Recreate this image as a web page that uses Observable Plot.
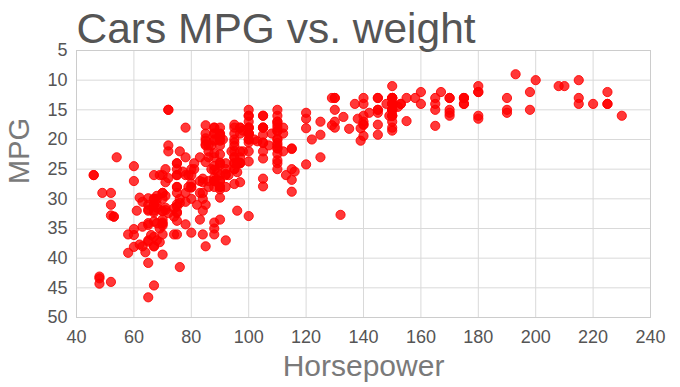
<!DOCTYPE html>
<html>
<head>
<meta charset="utf-8">
<script src="https://cdn.jsdelivr.net/npm/d3@7"></script>
<script src="https://cdn.jsdelivr.net/npm/@observablehq/plot@0.6"></script>
<style>
  html, body { margin: 0; padding: 0; background: #fff; }
</style>
</head>
<body>
<div id="chart"></div>
<script>
const title = "Cars MPG vs. weight";
const xLabel = "Horsepower";
const yLabel = "MPG";
const xTicks = [40, 60, 80, 100, 120, 140, 160, 180, 200, 220, 240];
const yTicks = [5, 10, 15, 20, 25, 30, 35, 40, 45, 50];

const horsepower = [
130,165,150,150,140,198,220,215,225,190,170,160,150,225,95,95,97,85,88,46,87,90,95,113,90,215,200,210,193,88,90,95,100,105,100,88,100,165,175,153,150,180,170,175,110,72,100,88,86,90,70,76,65,69,60,70,95,80,54,90,86,165,175,150,153,150,208,155,160,190,97,150,130,140,150,112,76,87,69,86,92,97,80,88,175,150,145,137,150,198,150,158,150,215,225,175,105,100,100,88,95,46,150,167,170,180,100,88,72,94,90,85,107,90,145,230,49,75,91,112,150,110,122,180,95,100,100,67,80,65,75,100,110,105,140,150,150,140,150,83,67,78,52,61,75,75,75,97,93,67,95,105,72,72,170,145,150,148,110,105,110,95,110,110,129,75,83,100,78,96,71,97,97,70,90,95,88,98,115,53,86,81,92,79,83,140,150,120,152,100,105,81,90,52,60,70,53,100,78,110,95,71,70,75,72,102,150,88,108,120,180,145,130,150,68,80,58,96,70,145,110,145,130,110,105,100,98,180,170,190,149,78,88,75,89,63,83,67,78,97,110,110,48,66,52,70,60,110,140,139,105,95,85,88,100,90,105,85,110,120,145,165,139,140,68,95,97,75,95,105,85,97,103,125,115,133,71,68,115,85,88,90,110,130,129,138,135,155,142,125,150,71,65,80,80,77,125,71,90,70,70,65,69,90,115,115,90,76,60,70,65,90,88,90,90,78,90,75,92,75,65,105,65,48,48,67,67,67,67,62,132,100,88,72,84,84,92,110,84,58,64,60,67,65,62,68,63,65,65,74,75,75,100,74,80,76,116,120,110,105,88,85,88,88,88,85,84,90,92,74,68,68,63,70,88,75,70,67,67,67,110,85,92,112,96,84,90,86,52,84,79,82
];
const mpg = [
18,15,18,16,17,15,14,14,14,15,15,14,15,14,24,22,18,21,27,26,25,24,25,26,21,10,10,11,9,27,28,25,19,16,17,19,18,14,14,14,14,12,13,13,18,22,19,18,23,28,30,30,31,35,27,26,24,25,23,20,21,13,14,15,14,17,11,13,12,13,19,15,13,13,14,18,22,21,26,22,28,23,28,27,13,14,13,14,15,12,13,13,14,13,12,13,18,16,18,18,23,26,11,12,13,12,18,20,21,22,18,19,21,26,15,16,29,24,20,19,15,24,20,11,20,19,15,31,26,32,25,16,16,18,16,13,14,14,14,29,26,26,31,32,28,24,26,24,26,31,19,18,15,15,16,15,16,14,17,16,15,18,21,20,13,29,23,20,23,24,25,24,18,29,19,23,23,22,25,33,28,25,25,26,27,17.5,16,15.5,14.5,22,22,24,22.5,29,24.5,29,33,20,18,18.5,17.5,29.5,32,28,26.5,20,13,19,19,16.5,16.5,13,13,13,31.5,30,36,25.5,33.5,17.5,17,15.5,15,17.5,20.5,19,18.5,16,15.5,15.5,16,29,24.5,26,25.5,30.5,33.5,30,30.5,22,21.5,21.5,43.1,36.1,32.8,39.4,36.1,19.9,19.4,20.2,19.2,20.5,20.2,25.1,20.5,19.4,20.6,20.8,18.6,18.1,19.2,17.7,18.1,17.5,30,27.5,27.2,30.9,21.1,23.2,23.8,23.9,20.3,17,21.6,16.2,31.5,29.5,21.5,19.8,22.3,20.2,20.6,17,17.6,16.5,18.2,16.9,15.5,19.2,18.5,31.9,34.1,35.7,27.4,25.4,23,27.2,23.9,34.2,34.5,31.8,37.3,28.4,28.8,26.8,33.5,41.5,38.1,32.1,37.2,28,26.4,24.3,19.1,34.3,29.8,31.3,37,32.2,46.6,27.9,40.8,44.3,43.4,36.4,30,44.6,33.8,29.8,32.7,23.7,35,32.4,27.2,26.6,25.8,23.5,30,39.1,39,35.1,32.3,37,37.7,34.1,34.7,34.4,29.9,33,33.7,32.4,32.9,31.6,28.1,30.7,25.4,24.2,22.4,26.6,20.2,17.6,28,27,34,31,29,27,24,36,37,31,38,36,36,36,34,38,32,38,25,38,26,22,32,36,27,27,44,32,28,31
];

const cars = horsepower.map((h, i) => ({hp: h, mpg: mpg[i]}));

const chart = Plot.plot({
  width: 680,
  height: 387,
  marginLeft: 76,
  marginRight: 30,
  marginTop: 50,
  marginBottom: 70,
  style: {fontFamily: "'Liberation Sans', Arial, sans-serif", fontSize: "18px", color: "#555", background: "#fff"},
  x: {domain: [40, 240]},
  y: {domain: [5, 50], reverse: true},
  marks: [
    Plot.gridX(xTicks, {stroke: "#d9d9d9", strokeOpacity: 1}),
    Plot.gridY(yTicks, {stroke: "#d9d9d9", strokeOpacity: 1}),
    Plot.frame({stroke: "#cccccc"}),
    Plot.axisX(xTicks, {tickSize: 0, tickPadding: 12.4, label: null, fill: "#555", fontSize: 18}),
    Plot.axisY(yTicks, {tickSize: 0, tickPadding: 9, label: null, fill: "#555", fontSize: 18}),
    Plot.dot(cars, {x: "hp", y: "mpg", r: 4.6, fill: "red", fillOpacity: 0.78, stroke: "red", strokeOpacity: 0.85, strokeWidth: 1}),
    Plot.text([title], {frameAnchor: "top-left", textAnchor: "start", lineAnchor: "bottom", dy: -8, dx: 0, fontSize: 42.5, fill: "#555"}),
    Plot.text([xLabel], {frameAnchor: "bottom", lineAnchor: "bottom", dy: 58.5, fontSize: 30, fill: "#7a7a7a"}),
    Plot.text([yLabel], {frameAnchor: "left", lineAnchor: "bottom", rotate: -90, dx: -48, fontSize: 29, fill: "#7a7a7a"})
  ]
});
document.getElementById("chart").appendChild(chart);
</script>
</body>
</html>
